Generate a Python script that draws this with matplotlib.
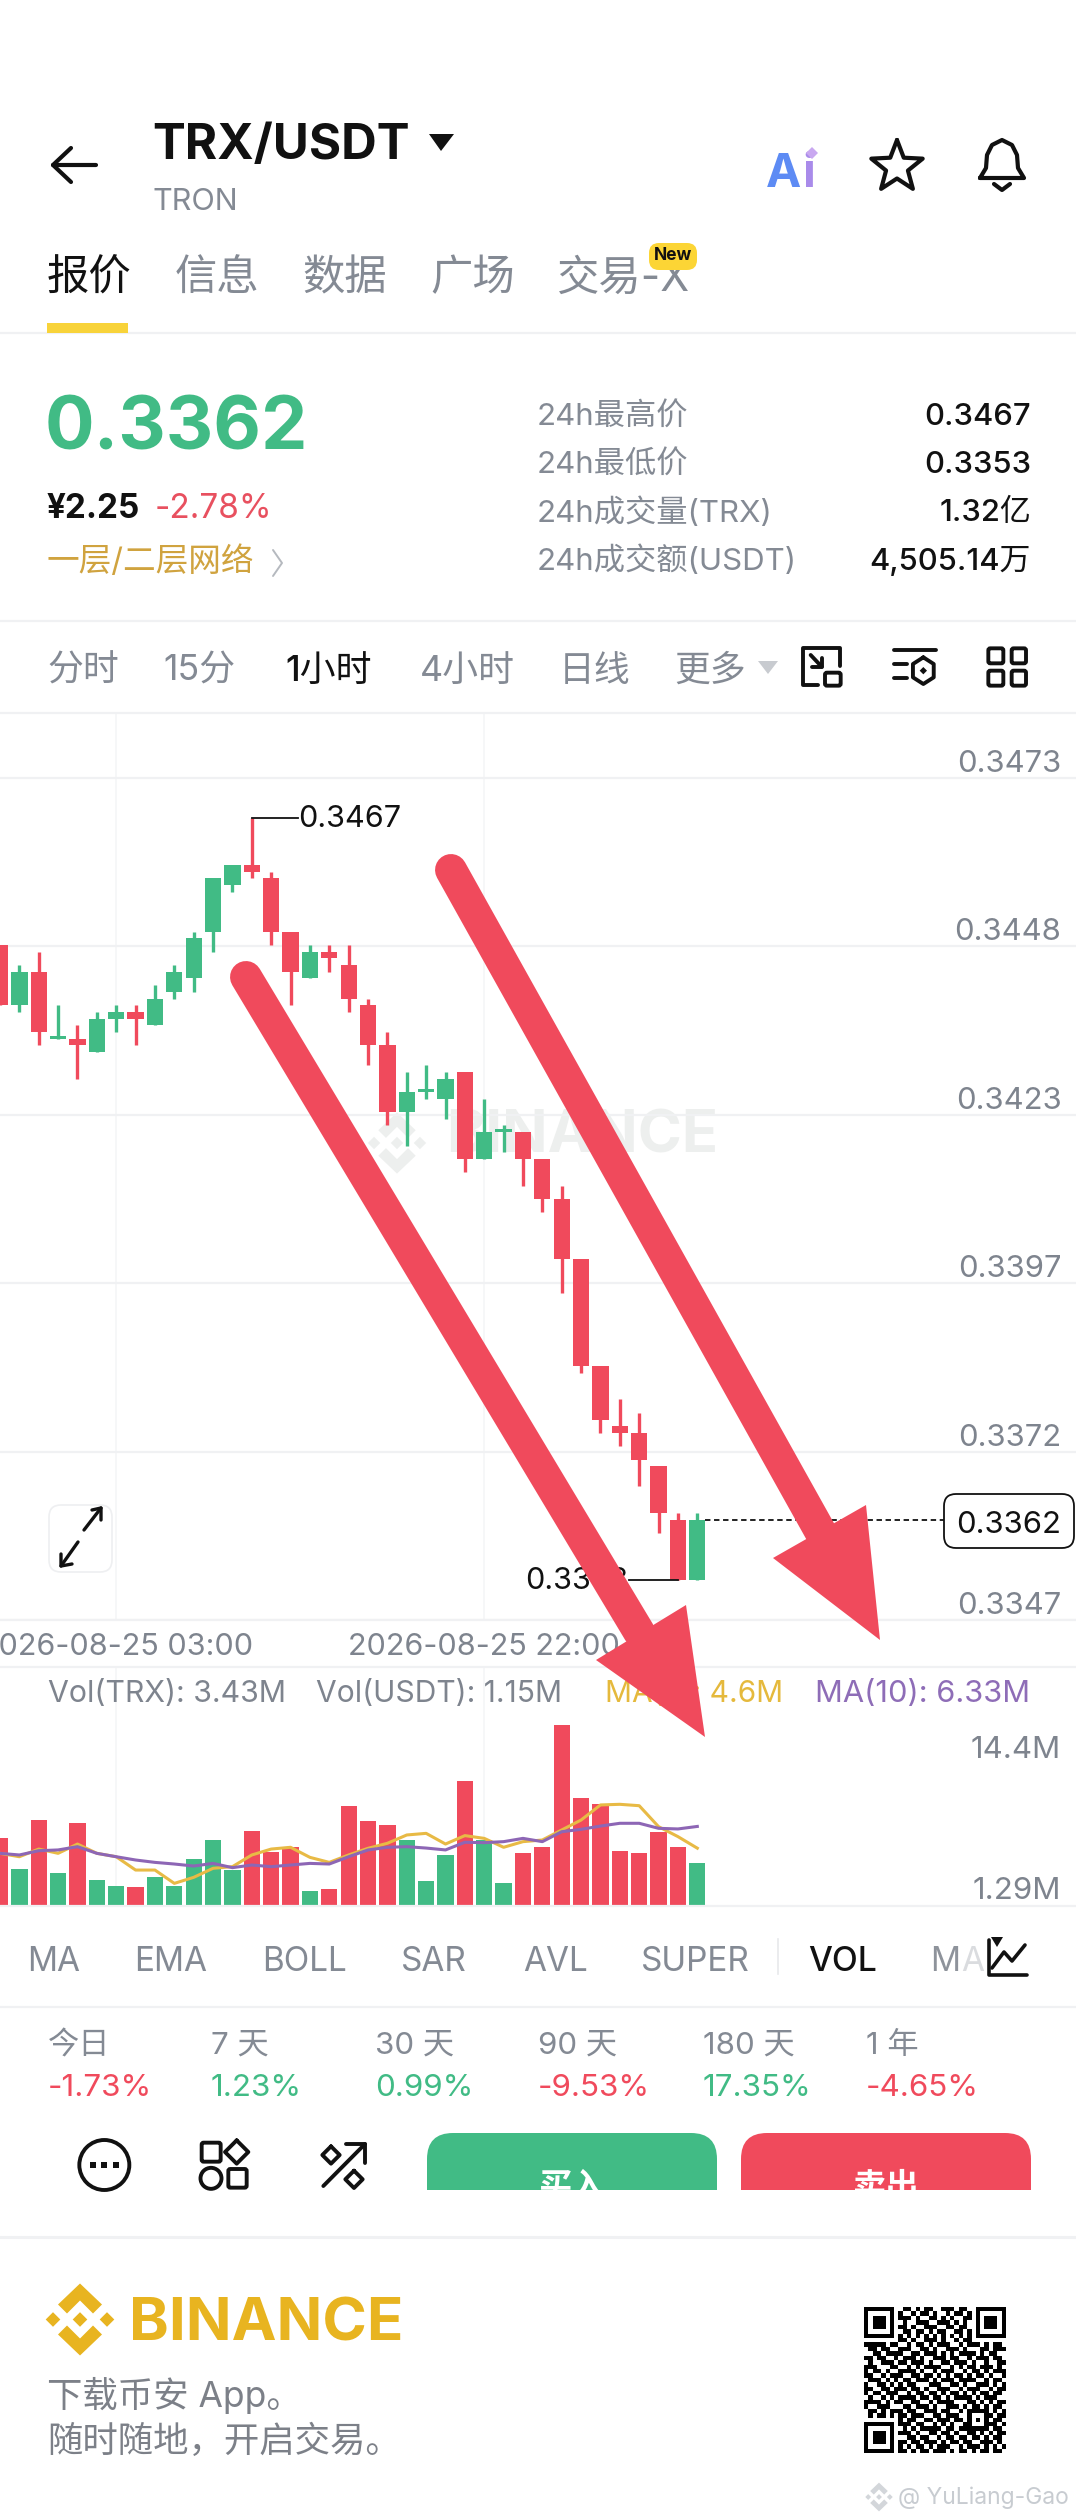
import numpy as np
import matplotlib
matplotlib.use('Agg')
import matplotlib.pyplot as plt
from matplotlib.patches import Polygon, Circle, FancyBboxPatch, Rectangle

plt.rcParams['font.family'] = ['Inter', 'Noto Sans CJK SC', 'DejaVu Sans']

W, H = 1076, 2520

# velas de 1 hora
open_ = [.3448, .3439, .3444, .3434, .3434, .3432, .3437, .3438, .3436, .3441, .3443, .3450, .3457,
         .3460, .3458, .3450, .3443, .3447, .3445, .3439, .3433, .3423, .3426, .3425, .3429, .3416,
         .3420, .3420, .3416, .3410, .3401, .3385, .3376, .3375, .3370, .3362, .3353]
close = [.3439, .3444, .3435, .3434, .3433, .3437, .3438, .3437, .3440, .3444, .3449, .3458, .3460,
         .3459, .3450, .3444, .3447, .3446, .3440, .3433, .3423, .3426, .3426, .3428, .3416, .3420,
         .3420, .3416, .3410, .3401, .3385, .3377, .3375, .3371, .3363, .3353, .3362]
high = [.3448, .3445, .3447, .3439, .3436, .3438, .3439, .3439, .3442, .3445, .3450, .3458, .3460,
        .3467, .3459, .3450, .3448, .3448, .3448, .3440, .3435, .3429, .3430, .3429, .3429, .3425,
        .3421, .3420, .3416, .3412, .3401, .3385, .3380, .3378, .3370, .3363, .3363]
low = [.3439, .3438, .3433, .3434, .3428, .3432, .3435, .3433, .3436, .3440, .3441, .3447, .3456,
       .3458, .3448, .3439, .3443, .3444, .3438, .3430, .3421, .3418, .3425, .3422, .3414, .3416,
       .3417, .3412, .3408, .3396, .3384, .3375, .3373, .3367, .3360, .3353, .3353]

# volumen en millones
volume = [5.38, 2.94, 6.84, 2.65, 6.58, 2.07, 1.62, 1.54, 2.28, 1.59, 3.71, 5.22, 2.86, 5.97, 4.32,
          4.72, 1.17, 1.35, 7.98, 6.76, 6.42, 5.28, 2.02, 4.08, 9.95, 5.25, 1.86, 4.24, 4.72, 14.4,
          8.57, 8.09, 4.38, 4.19, 5.91, 4.69, 3.43]
ma5 = [4.19, 3.92, 4.53, 4.19, 4.93, 4.19, 3.92, 2.86, 2.86, 1.80, 2.28, 3.00, 3.13, 4.06, 4.53,
       4.67, 3.87, 3.47, 4.06, 4.59, 4.99, 5.65, 5.78, 4.93, 5.60, 5.38, 4.67, 5.12, 5.25, 6.05,
       6.84, 8.04, 8.09, 7.98, 6.31, 5.52, 4.6]
ma10 = [4.19, 4.06, 4.40, 4.46, 4.72, 4.19, 3.92, 3.66, 3.47, 3.34, 3.18, 3.39, 3.05, 3.26, 3.13,
        3.26, 3.39, 3.34, 3.92, 4.46, 4.67, 4.72, 4.61, 4.46, 5.07, 5.04, 5.12, 5.38, 5.12, 5.91,
        6.10, 6.36, 6.58, 6.58, 6.18, 6.13, 6.33]

price_ticks = [.34730, .34478, .34226, .33974, .33722, .33470]
date_ticks = [6, 25]
date_labels = ['2026-08-25 03:00', '2026-08-25 22:00']

tabs = ['报价', '信息', '数据', '广场', '交易-X']
tab_x = [47, 175, 302, 430, 557]
stat_names = ['24h最高价', '24h最低价', '24h成交量(TRX)', '24h成交额(USDT)']
stat_values = ['0.3467', '0.3353', '1.32亿', '4,505.14万']
stat_y = [414, 462, 510, 558]
frames = ['分时', '15分', '1小时', '4小时', '日线', '更多']
frame_x = [47, 163, 285, 420, 559, 674]
indicators = ['MA', 'EMA', 'BOLL', 'SAR', 'AVL', 'SUPER']
indicator_x = [27, 134, 262, 401, 523, 641]
periods = ['今日', '7 天', '30 天', '90 天', '180 天', '1 年']
period_values = ['-1.73%', '1.23%', '0.99%', '-9.53%', '17.35%', '-4.65%']
period_x = [48, 211, 375, 538, 703, 866]

qr_rows = [
    '111111100110101100111011001111111', '100000101001011010010110101000001',
    '101110101110100110101001101011101', '101110100100111001110101001011101',
    '101110101101001110011011001011101', '100000100110110101100110101000001',
    '111111101010101010101010101111111', '000000001101001110100101100000000',
    '111110110010110101110010111010110', '011011001110011010011101000110111',
    '001101111001101110101011110101100', '110110010111010011101100101110110',
    '010011101101110100110111010010011', '111000110010101111001010110111010',
    '101101001111010010111001011010111', '110010111001101101010110101101001',
    '011101010110111010111011110010110', '100110101011000111001101001110101',
    '110011011101101001110010111001011', '101101110010110110101101010110110',
    '010010101111011011010111101011100', '111101011001100101111000110101011',
    '100111000110111010011101011010110', '011010111011001110110010111110101',
    '010110101101110011011100100011011', '000000001011001101110110101010110',
    '111111101110110010101001100011101', '100000100101011111011011111110110',
    '101110101110100110110100110101011', '101110100011011001011011011010110',
    '101110101101101110101101100111010', '100000101010110101110010111010101',
    '111111101101011011101011010110110']

RED = '#F04A5C'
GREEN = '#41BB85'
GREY = '#848A94'
LINE = '#F0F1F3'
BLACK = '#111111'

fig = plt.figure(figsize=(W / 100, H / 100), dpi=100, facecolor='white')


def px_axes(x0, y0, x1, y1, z):
    ax = fig.add_axes([x0 / W, 1 - y1 / H, (x1 - x0) / W, (y1 - y0) / H], zorder=z)
    ax.patch.set_visible(False)
    return ax


# capas en pixeles: under (marca de agua, lineas) y ui (textos, iconos, flechas)
under = px_axes(0, 0, W, H, 0)
ui = px_axes(0, 0, W, H, 5)
for a in (under, ui):
    a.set_xlim(0, W)
    a.set_ylim(H, 0)
    a.axis('off')

# grafico de velas
ax = px_axes(0, 713, W, 1620, 1)
x = np.arange(len(close))
o, c = np.array(open_), np.array(close)
colors = [GREEN if c[i] >= o[i] else RED for i in x]
ax.vlines(x, low, high, colors=colors, linewidth=2.4, zorder=3)
ax.bar(x, np.maximum(np.abs(c - o), 4.5e-5), bottom=np.minimum(o, c), width=0.84, color=colors, zorder=3)
ax.set_xlim(0, W / 19.37)
ax.set_ylim(0.3347, 0.3347 + 907 * 1.4964e-5)
ax.set_yticks(price_ticks)
ax.set_yticklabels(['%.4f' % v for v in price_ticks])
ax.yaxis.tick_right()
ax.tick_params(axis='y', length=0, pad=-10.5, labelsize=22.3, labelcolor='#7E848E')
for lab in ax.get_yticklabels():
    lab.set_ha('right')
    lab.set_va('bottom')
ax.set_xticks(date_ticks)
ax.set_xticklabels(date_labels)
ax.tick_params(axis='x', length=0, pad=9.2, labelsize=22, labelcolor='#7E848E')
ax.grid(True, axis='y', color=LINE, linewidth=1.6, zorder=0)
ax.grid(True, axis='x', color='#F4F5F6', linewidth=1.1, zorder=0)
for s in ax.spines.values():
    s.set_visible(False)
ax.spines['top'].set_visible(True)
ax.spines['top'].set_color(LINE)
ax.spines['top'].set_linewidth(1.6)
ax.spines['bottom'].set_visible(True)
ax.spines['bottom'].set_color(LINE)
ax.spines['bottom'].set_linewidth(1.6)

# maximo, minimo y precio actual
hi_i, lo_i = int(np.argmax(high)), int(np.argmin(low))
ax.plot([hi_i, hi_i + 2.4], [max(high)] * 2, color=BLACK, linewidth=1.3, zorder=4)
ax.text(hi_i + 2.4, max(high) - 1.5e-5, '%.4f' % max(high), fontsize=22, color=BLACK, va='center', zorder=4)
ax.plot([lo_i - 2.55, lo_i], [min(low)] * 2, color=BLACK, linewidth=1.3, zorder=4)
ax.text(lo_i - 2.55, min(low) - 1.5e-5, '%.4f' % min(low), fontsize=22, color=BLACK, va='center', ha='right', zorder=4)
ax.plot([x[-1] + 0.4, 944 / 19.37], [close[-1]] * 2, color=BLACK, linewidth=1.3, linestyle=(0, (3, 2)), zorder=2)

# volumen
vax = px_axes(0, 1667, W, 1906, 1)
vax.bar(x, volume, width=0.84, color=colors, zorder=2)
vax.plot(x, ma5, color='#E8BA45', linewidth=2.2, zorder=3)
vax.plot(x, ma10, color='#8D66B5', linewidth=2.2, zorder=4)
vax.set_xlim(0, W / 19.37)
vax.set_ylim(0, 239 * 14.4 / 181)
vax.set_xticks(date_ticks)
vax.set_xticklabels([])
vax.set_yticks([])
vax.tick_params(axis='x', length=0)
vax.grid(True, axis='x', color='#F4F5F6', linewidth=1.1, zorder=0)
for s in ['left', 'right']:
    vax.spines[s].set_visible(False)
for s in ['top', 'bottom']:
    vax.spines[s].set_color(LINE)
    vax.spines[s].set_linewidth(1.6)


def t(px, py, s, size, color=BLACK, ha='left', weight='normal', a=None, z=2):
    # el centrado de matplotlib sube el texto unos 3 px
    return (a or ui).text(px, py + 3, s, fontsize=size, color=color, ha=ha, va='center', fontweight=weight, zorder=z)


def sep(py, lw=1.6):
    under.plot([0, W], [py, py], color=LINE, linewidth=lw)


def stroke(points, lw=2.8, color=BLACK, closed=False):
    pts = list(points) + ([points[0]] if closed else [])
    xs, ys = zip(*pts)
    ui.plot(xs, ys, color=color, linewidth=lw, solid_capstyle='round', solid_joinstyle='round', zorder=3)


def zoomed(points, ox, oy):
    return [(ox + px / 3, oy + py / 3) for px, py in points]


def rbox(x0, y0, x1, y1, r, lw=2.8, ec=BLACK, fc='none', a=None, z=3):
    p = FancyBboxPatch((x0 + r, y0 + r), x1 - x0 - 2 * r, y1 - y0 - 2 * r, boxstyle='round,pad=%f' % r,
                       linewidth=lw, edgecolor=ec, facecolor=fc, zorder=z)
    (a or ui).add_patch(p)
    return p


def diamond(cx, cy, r):
    return [(cx, cy - r), (cx + r, cy), (cx, cy + r), (cx - r, cy)]


def logo(a, cx, cy, k, color, z=1):
    for dx in (-27, 0, 27):
        a.add_patch(Polygon(diamond(cx + dx * k, cy, 7.3 * k), color=color, zorder=z, lw=0))
    chevron = [(0, -36), (22, -15), (13, -6), (0, -19), (-13, -6), (-22, -15)]
    for sign in (1, -1):
        a.add_patch(Polygon([(cx + px * k, cy + sign * py * k) for px, py in chevron], color=color, zorder=z, lw=0))


# cabecera
stroke([(53, 165), (96, 165)], 3)
stroke([(71, 148), (53, 165), (71, 182)], 3)
t(152, 143, 'TRX/USDT', 35.5, weight='bold')
ui.add_patch(Polygon([(429, 134), (454, 134), (441, 151)], color=BLACK, lw=0, zorder=3))
t(152, 199, 'TRON', 22, GREY)
t(766, 172, 'A', 34, '#5D8BF4', weight='bold')
t(802, 172, 'i', 34, '#A98BEA', weight='bold')
ui.add_patch(Polygon(diamond(812, 153, 6), color='#C9A8F0', lw=0, zorder=3))
ang = np.deg2rad(np.arange(10) * 36 - 90)
rad = np.array([27, 11.5] * 5)
stroke(list(zip(897 + rad * np.cos(ang), 167 + rad * np.sin(ang))), 3, closed=True)
stroke([(980, 178), (986, 168), (987, 155), (992, 145), (1002, 140), (1012, 145), (1017, 155), (1018, 168),
        (1024, 178)], 3, closed=True)
stroke([(994, 184), (1002, 190), (1010, 184)], 3)

# pestanas
for i, (name, px) in enumerate(zip(tabs, tab_x)):
    t(px, 276, name, 30.5, BLACK if i == 0 else GREY, weight='medium' if i == 0 else 'normal')
rbox(649, 243, 697, 270, 10, lw=0, ec='none', fc='#FCD535', z=4)
t(673, 253, 'New', 12.5, BLACK, ha='center', weight='bold', z=5)
ui.add_patch(Rectangle((47, 323), 81, 10, color='#F8D33A', lw=0, zorder=3))
sep(333)

# resumen de precio
t(45, 427, '0.3362', 53, GREEN, weight='bold')
t(47, 506, '¥2.25', 24, BLACK, weight='bold')
t(155, 506, '-2.78%', 24, '#E8505F')
t(47, 559, '一层/二层网络', 23.5, '#D0A33F')
stroke([(273, 550), (282, 563), (273, 576)], 1.4, '#B5B9BF')
for name, val, py in zip(stat_names, stat_values, stat_y):
    t(537, py, name, 22.5, GREY)
    t(1031, py, val, 22.3, BLACK, ha='right', weight='medium')
sep(621)

# selector de temporalidad
for name, px in zip(frames, frame_x):
    active = name == '1小时'
    t(px, 668, name, 25.8, BLACK if active else GREY, weight='medium' if active else 'normal')
ui.add_patch(Polygon([(758, 661), (778, 661), (768, 674)], color='#C8CBD0', lw=0, zorder=3))
stroke(zoomed([(150, 78), (150, 25), (40, 25), (40, 135), (85, 135)], 790, 640))
rbox(790 + 105 / 3, 640 + 98 / 3, 790 + 152 / 3, 640 + 137 / 3, 2)
stroke(zoomed([(62, 45), (95, 80)], 790, 640))
stroke(zoomed([(95, 55), (95, 80), (65, 80)], 790, 640))
stroke(zoomed([(312, 30), (437, 30)], 790, 640))
stroke(zoomed([(312, 72), (350, 72)], 790, 640))
stroke(zoomed([(312, 114), (350, 114)], 790, 640))
hexa = np.deg2rad(np.arange(6) * 60 - 90)
stroke(zoomed(list(zip(400 + 36 * np.cos(hexa), 92 + 40 * np.sin(hexa))), 790, 640), closed=True)
ui.add_patch(Polygon(zoomed(diamond(400, 92, 11), 790, 640), color=BLACK, lw=0, zorder=3))
for x0, y0, x1, y1 in [(595, 25, 640, 70), (665, 25, 708, 70), (595, 92, 640, 137), (665, 92, 708, 137)]:
    rbox(790 + x0 / 3, 640 + y0 / 3, 790 + x1 / 3, 640 + y1 / 3, 2)

# marca de agua
logo(under, 397, 1143, 0.85, '#EDEFEE')
t(446, 1134, 'BINANCE', 43, '#EDEFEE', weight='bold', a=under)

# caja de precio y boton de ampliar
rbox(944, 1494, 1074, 1548, 12, lw=1.3, ec=BLACK, fc='white')
t(1009, 1522, '0.3362', 22.3, BLACK, ha='center', z=4)
rbox(49, 1505, 112, 1572, 12, lw=1.2, ec='#EEEFF1', fc='white')
stroke([(84, 1530), (101, 1508)], 2.4)
stroke([(92, 1510), (101, 1508), (101, 1520)], 2.4)
stroke([(78, 1542), (61, 1566)], 2.4)
stroke([(61, 1554), (61, 1566), (72, 1564)], 2.4)

# leyenda de volumen y escala
t(48, 1691, 'Vol(TRX): 3.43M', 21.8, '#7E848E')
t(316, 1691, 'Vol(USDT): 1.15M', 21.6, '#7E848E')
t(605, 1691, 'MA(5): 4.6M', 21.5, '#E5B93C')
t(815, 1691, 'MA(10): 6.33M', 22.2, '#8E6DB7')
t(1061, 1747, '14.4M', 22.5, '#7E848E', ha='right')
t(1061, 1888, '1.29M', 22.5, '#7E848E', ha='right')

# indicadores
for name, px in zip(indicators, indicator_x):
    t(px, 1959, name, 24, GREY)
ui.plot([778, 778], [1939, 1974], color='#E8E9EB', linewidth=1.2)
t(808, 1959, 'VOL', 24.3, BLACK, weight='medium')
t(930, 1959, 'M', 24, '#8E939B')
t(961, 1959, 'A', 24, '#DADCDF')
stroke([(989, 1940), (989, 1975), (1027, 1975)], 2.6)
stroke([(992, 1968), (1004, 1952), (1012, 1961), (1025, 1945)], 2.6)
ui.add_patch(Polygon([(991, 1937), (1003, 1937), (997, 1947)], color=BLACK, lw=0, zorder=3))
sep(2007)

# rendimiento por periodo
for name, val, px in zip(periods, period_values, period_x):
    t(px, 2043, name, 22.5, GREY)
    t(px, 2085, val, 22.6, RED if val.startswith('-') else GREEN)

# iconos y botones inferiores
ui.add_patch(Circle((60 + 133 / 3, 2120 + 135 / 3), 25, fill=False, ec=BLACK, lw=2.8, zorder=3))
for zx in (100, 133, 167):
    ui.add_patch(Rectangle((60 + zx / 3 - 3, 2165 - 3), 6, 6, color=BLACK, lw=0, zorder=3))
rbox(60 + 425 / 3, 2120 + 68 / 3, 60 + 482 / 3, 2120 + 125 / 3, 2)
stroke(zoomed(diamond(530, 96, 35), 60, 2120), closed=True)
ui.add_patch(Circle((60 + 453 / 3, 2120 + 175 / 3), 10.5, fill=False, ec=BLACK, lw=2.8, zorder=3))
rbox(60 + 505 / 3, 2120 + 147 / 3, 60 + 560 / 3, 2120 + 203 / 3, 2)
stroke(zoomed([(790, 198), (915, 72)], 60, 2120))
stroke(zoomed([(858, 72), (915, 72), (915, 130)], 60, 2120))
stroke(zoomed(diamond(813, 105, 26), 60, 2120), closed=True)
stroke(zoomed(diamond(882, 178, 26), 60, 2120), closed=True)
for x0, x1, col, label in [(427, 717, GREEN, '买入'), (741, 1031, RED, '卖出')]:
    clip = Rectangle((x0 - 2, 2125), x1 - x0 + 4, 65, transform=ui.transData)
    btn = rbox(x0, 2133, x1, 2240, 26, lw=0, ec='none', fc=col)
    btn.set_clip_path(clip)
    lab = t((x0 + x1) / 2, 2185, label, 24, 'white', ha='center', weight='bold', z=4)
    lab.set_clip_path(clip)
sep(2237, 2.2)

# pie con logo y QR
logo(ui, 80, 2319.5, 1, '#E8B420', z=3)
t(129, 2322, 'BINANCE', 43.3, '#E8B420', weight='bold')
t(47, 2392, '下载币安 App。', 25.5, '#7C8088')
t(47, 2439, '随时随地，开启交易。', 25.5, '#7C8088')
qr = np.array([[int(ch) for ch in row.ljust(33, '0')[:33]] for row in qr_rows])
ui.imshow(1 - qr, cmap='gray', vmin=0, vmax=1, extent=(864, 1006, 2453, 2307), interpolation='nearest',
          aspect='auto', zorder=3)
ui.set_xlim(0, W)
ui.set_ylim(H, 0)
logo(ui, 879, 2497, 0.4, '#D3D6DA', z=3)
t(898, 2495, '@ YuLiang-Gao', 16.5, '#C8CCD1')

# flechas rojas encima de todo
for start, base, tip, c1, c2 in [((246, 977), (639, 1632), (705, 1737), (686, 1605), (596, 1660)),
                                 ((451, 870), (820, 1531), (880, 1640), (866, 1505), (773, 1558))]:
    ui.plot([start[0], base[0]], [start[1], base[1]], color=RED, linewidth=23, solid_capstyle='round', zorder=10)
    ui.add_patch(Polygon([tip, c1, c2], color=RED, lw=0, zorder=10))

fig.savefig('out.png', dpi=100)
